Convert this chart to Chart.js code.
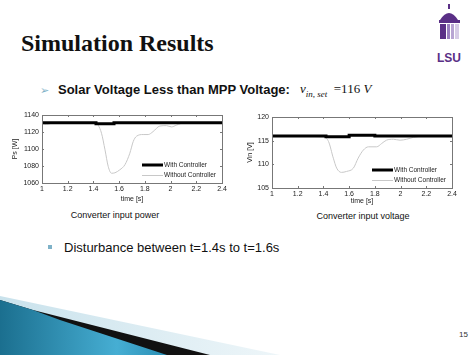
<!DOCTYPE html>
<html><head><meta charset="utf-8">
<script src="https://cdn.jsdelivr.net/npm/chart.js@4.4.0/dist/chart.umd.min.js"></script>
<style>
html,body{margin:0;padding:0;background:#fff;}
body{width:474px;height:355px;position:relative;overflow:hidden;font-family:"Liberation Sans",Arial,sans-serif;}
.abs{position:absolute;white-space:nowrap;}
#title{left:21px;top:30px;font-family:"Liberation Serif","Times New Roman",serif;font-weight:bold;font-size:24px;color:#111;}
#sub{left:40px;top:82px;font-size:13px;font-weight:bold;color:#111;}
#sub .arr{color:#7fb2c8;font-weight:normal;font-size:11px;margin-right:9px;}
#math{left:300px;top:81px;font-family:"Liberation Serif","Times New Roman",serif;font-size:13px;color:#111;}
#math i sub{font-size:9px;}
#bul{left:48px;top:240px;font-size:13px;color:#111;}
#bul .sq{display:inline-block;width:4px;height:4px;background:#7fb2c8;margin-right:12px;vertical-align:middle;position:relative;top:-2px;}
.cap{font-size:9px;color:#111;transform:translateX(-50%);}
#pg{left:459px;top:330px;font-size:8px;color:#333;}
canvas{position:absolute;}
</style></head>
<body>
<svg class="abs" style="left:0;top:0" width="474" height="355">
  <defs>
    <linearGradient id="g1" x1="0" y1="0" x2="1" y2="0">
      <stop offset="0" stop-color="#1b6f8f"/>
      <stop offset="0.7" stop-color="#46aed3"/>
      <stop offset="1" stop-color="#2a8fb5"/>
    </linearGradient>
    <linearGradient id="g2" x1="0" y1="0" x2="1" y2="0">
      <stop offset="0" stop-color="#c9e2ec"/>
      <stop offset="1" stop-color="#eef6f9"/>
    </linearGradient>
  </defs>
  <polygon points="0,296 280,355 0,355" fill="url(#g2)"/>
  <polygon points="0,300 33,310 210,355 0,355" fill="#111"/>
  <polygon points="0,300 33,310 60,320 167,355 0,355" fill="url(#g1)"/>
  <!-- LSU logo -->
  <g fill="#5a2f86">
    <rect x="448" y="4" width="2" height="5"/>
    <path d="M440,20 Q449,6 458,20 Z"/>
    <rect x="439" y="20" width="21" height="3"/>
    <rect x="440" y="24" width="6" height="15"/>
    <rect x="447" y="24" width="3" height="15" fill="#9a7fbf"/>
    <rect x="451" y="24" width="3" height="15" fill="#b8a5d3"/>
    <rect x="455" y="24" width="4" height="15" fill="#d6cbe6"/>
  </g>
  <text x="449" y="62" text-anchor="middle" font-family="Liberation Sans, Arial" font-weight="bold" font-size="12" fill="#5a2f86">LSU</text>
</svg>
<div id="title" class="abs">Simulation Results</div>
<div id="sub" class="abs"><span class="arr">&#10146;</span>Solar Voltage Less than MPP Voltage:</div>
<div id="math" class="abs"><i>v<sub>in, set</sub></i> &nbsp;=116 <i>V</i></div>
<canvas id="c1" width="235" height="105" style="left:0;top:105px;width:235px;height:105px"></canvas>
<canvas id="c2" width="234" height="105" style="left:240px;top:105px;width:234px;height:105px"></canvas>
<div class="abs cap" style="left:115px;top:210px">Converter input power</div>
<div class="abs cap" style="left:363px;top:211px">Converter input voltage</div>
<div id="bul" class="abs"><span class="sq"></span>Disturbance between t=1.4s to t=1.6s</div>
<div id="pg" class="abs">15</div>
<script>
// ---- data ----
const xTicks = [1, 1.2, 1.4, 1.6, 1.8, 2, 2.2, 2.4];
const seriesNames = ["With Controller", "Without Controller"];

const powerTicks = [1060, 1080, 1100, 1120, 1140];
const powerWithT = [1.0, 1.42, 1.42, 1.56, 1.56, 2.4];
const powerWithV = [1131, 1131, 1129.8, 1129.8, 1131, 1131];
const powerWithoutT = [1.0, 1.02, 1.05, 1.08, 1.1, 1.4, 1.42, 1.437, 1.463, 1.49, 1.515, 1.54, 1.567, 1.605, 1.645, 1.683, 1.71, 1.735, 1.787, 1.826, 1.864, 1.916, 1.968, 2.007, 2.045, 2.08, 2.12, 2.4];
const powerWithoutV = [1130, 1129, 1129.3, 1130.5, 1131, 1131, 1130.5, 1128, 1118.5, 1099, 1079.5, 1071.5, 1072, 1075.5, 1081.5, 1095, 1109, 1115, 1117, 1117, 1120.5, 1127, 1127.5, 1126, 1128, 1130, 1131, 1131];

const voltTicks = [105, 110, 115, 120];
const voltWithT = [1.0, 1.42, 1.42, 1.6, 1.6, 1.8, 1.8, 2.4];
const voltWithV = [116, 116, 115.85, 115.85, 116.15, 116.15, 116, 116];
const voltWithoutT = [1.0, 1.4, 1.44, 1.477, 1.503, 1.54, 1.58, 1.633, 1.67, 1.71, 1.75, 1.814, 1.853, 1.89, 1.944, 1.996, 2.047, 2.1, 2.2, 2.4];
const voltWithoutV = [116, 115.8, 114.8, 111.3, 109.2, 108.3, 108.5, 109.2, 111.3, 113, 113.7, 113.7, 114.4, 115.1, 115.3, 115.1, 115.3, 115.7, 116, 116];

// ---- helpers ----
const FONT = "'Liberation Sans', Arial, sans-serif";
const pts = (t, v) => t.map((x, i) => ({x, y: v[i]}));

const boxPlugin = {
  id: 'boxTicks',
  afterDatasetsDraw(chart) {
    const {ctx, chartArea: a, scales} = chart;
    ctx.save();
    ctx.strokeStyle = '#777';
    ctx.lineWidth = 1;
    ctx.strokeRect(Math.round(a.left) + 0.5, Math.round(a.top) + 0.5, Math.round(a.right - a.left), Math.round(a.bottom - a.top));
    const L = 2;
    ctx.beginPath();
    scales.x.ticks.forEach(t => {
      const px = Math.round(scales.x.getPixelForValue(t.value)) + 0.5;
      ctx.moveTo(px, a.bottom); ctx.lineTo(px, a.bottom - L);
      ctx.moveTo(px, a.top); ctx.lineTo(px, a.top + L);
    });
    scales.y.ticks.forEach(t => {
      const py = Math.round(scales.y.getPixelForValue(t.value)) + 0.5;
      ctx.moveTo(a.left, py); ctx.lineTo(a.left + L, py);
      ctx.moveTo(a.right, py); ctx.lineTo(a.right - L, py);
    });
    ctx.stroke();
    // legend
    const ds = chart.data.datasets;
    ctx.font = '6.5px ' + FONT;
    ctx.textBaseline = 'middle';
    ctx.fillStyle = '#222';
    const ys = [a.bottom - 18, a.bottom - 7.5];
    ds.forEach((d, i) => {
      ctx.beginPath();
      ctx.strokeStyle = d.borderColor;
      ctx.lineWidth = d.borderWidth;
      ctx.moveTo(a.right - 80, ys[i]); ctx.lineTo(a.right - 59, ys[i]);
      ctx.stroke();
      ctx.fillText(d.label, a.right - 58, ys[i]);
    });
    ctx.restore();
  }
};

function makeChart(id, withT, withV, woT, woV, yTicks, yTitle, pad, yWidth, xHeight) {
  new Chart(document.getElementById(id), {
    type: 'line',
    data: {
      datasets: [
        {label: seriesNames[0], data: pts(withT, withV), borderColor: '#000', borderWidth: 3, pointRadius: 0, tension: 0},
        {label: seriesNames[1], data: pts(woT, woV), borderColor: '#c8c8c8', borderWidth: 1, pointRadius: 0, cubicInterpolationMode: 'monotone'}
      ]
    },
    options: {
      responsive: false, animation: false,
      layout: {padding: pad},
      plugins: {legend: {display: false}, tooltip: {enabled: false}},
      scales: {
        x: {
          type: 'linear', min: xTicks[0], max: xTicks[xTicks.length - 1],
          afterBuildTicks: s => { s.ticks = xTicks.map(v => ({value: v})); },
          grid: {display: false, drawTicks: false, tickLength: 0}, border: {display: false},
          ticks: {font: {size: 7, family: FONT}, color: '#222', padding: 2, maxRotation: 0, autoSkip: false, callback: v => String(v)},
          title: {display: true, text: 'time [s]', font: {size: 7, family: FONT}, color: '#222', padding: {top: 0, bottom: 0}},
          afterFit: s => { s.height = xHeight; }
        },
        y: {
          type: 'linear', min: yTicks[0], max: yTicks[yTicks.length - 1],
          afterBuildTicks: s => { s.ticks = yTicks.map(v => ({value: v})); },
          grid: {display: false, drawTicks: false, tickLength: 0}, border: {display: false},
          ticks: {font: {size: 7, family: FONT}, color: '#222', padding: 3, callback: v => String(v)},
          title: {display: true, text: yTitle, font: {size: 7, family: FONT}, color: '#222', padding: {top: 0, bottom: 0}},
          afterFit: s => { s.width = yWidth; }
        }
      }
    },
    plugins: [boxPlugin]
  });
}

makeChart('c1', powerWithT, powerWithV, powerWithoutT, powerWithoutV, powerTicks, 'Ps [W]', {left: 11, right: 13, top: 10, bottom: 7}, 31, 20);
makeChart('c2', voltWithT, voltWithV, voltWithoutT, voltWithoutV, voltTicks, 'Vin [V]', {left: 6, right: 22, top: 12, bottom: 5}, 26, 17);
</script>
</body></html>
